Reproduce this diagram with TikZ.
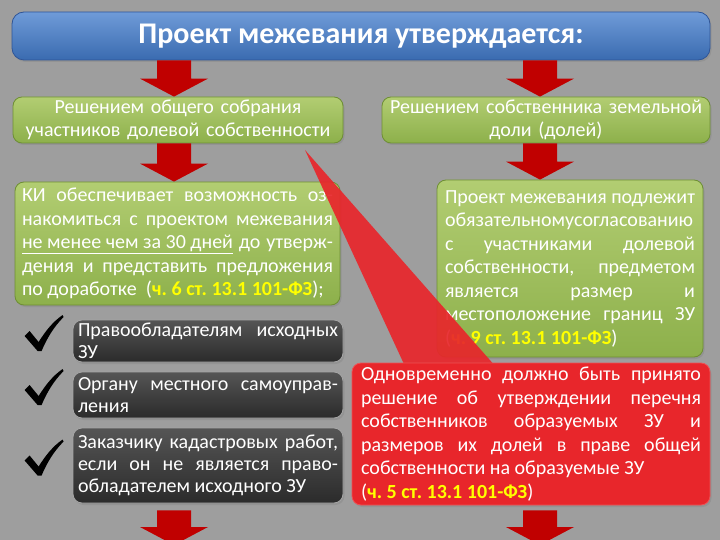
\documentclass[tikz,border=0pt]{standalone}
\usepackage{fontspec}
\setmainfont{Carlito}
\usetikzlibrary{calc,shadows}
\frenchspacing

\definecolor{bggray}{HTML}{9E9E9E}
\definecolor{titletop}{HTML}{6F9BD8}
\definecolor{titlebot}{HTML}{3A6BB0}
\definecolor{titleline}{HTML}{2F5597}
\definecolor{greentop}{HTML}{B2CD72}
\definecolor{greenbot}{HTML}{8DB04B}
\definecolor{greenline}{HTML}{6E8F34}
\definecolor{darktop}{HTML}{555555}
\definecolor{darkbot}{HTML}{2B2B2B}
\definecolor{callred}{HTML}{E8262B}
\definecolor{arrowcol}{HTML}{C00000}
\definecolor{lawyellow}{HTML}{FFFF00}

\newcommand\boxfont{\fontsize{20}{23.5}\selectfont}
\newcommand\darkfont{\fontsize{20}{22}\selectfont}
\newcommand\titlefont{\bfseries\fontsize{30}{34}\selectfont}
\newcommand\lawref[1]{\mbox{\textcolor{lawyellow}{\bfseries #1}}}
% block arrow from #1 down to the tip #2
\newcommand\blockarrow[2]{%
  \fill[arrowred] let \p1=(#1), \p2=(#2) in
    (\x1-17pt,\y1) -- (\x1+17pt,\y1) -- (\x1+17pt,\y2+18pt) -- (\x1+34pt,\y2+18pt)
    -- (\x1,\y2) -- (\x1-34pt,\y2+18pt) -- (\x1-17pt,\y2+18pt) -- cycle;}

\begin{document}
\begin{tikzpicture}[x=1pt,y=-1pt,
  roundbox/.style={rounded corners=9pt,inner sep=5pt,text=white,font=\boxfont,
    drop shadow={opacity=0.35,shadow xshift=1.5pt,shadow yshift=-2pt}},
  titlebox/.style={roundbox,rounded corners=12pt,top color=titletop,bottom color=titlebot,draw=titleline,line width=0.8pt,font=\titlefont},
  greenbox/.style={roundbox,top color=greentop,bottom color=greenbot,draw=greenline,line width=0.8pt},
  darkbox/.style={roundbox,top color=darktop,bottom color=darkbot,draw=gray!70,line width=0.8pt,
    align=justify,font=\darkfont,inner ysep=0pt},
  notebox/.style={roundbox,fill=callred,draw=callred!80!white,line width=0.8pt,align=justify,inner ysep=0pt},
  arrowred/.style={fill=arrowcol},
  checkmark/.pic={\fill[black] (-15,-15) -- (-10,-20) -- (-1,-9)
    .. controls (6,-20) and (13,-29) .. (23,-36) -- (24,-34)
    .. controls (14,-24) and (7,-12) .. (2,0) -- (-2,0) -- cycle;}]
\useasboundingbox (0,0) rectangle (720,540);
\clip (0,0) rectangle (720,540);
\fill[bggray] (0,0) rectangle (720,540);

\coordinate (lcol) at (174,0);
\coordinate (rcol) at (540,0);
\coordinate (lend) at (174,545);
\coordinate (rend) at (540,545);

\node[titlebox,minimum width=698pt,minimum height=48pt] (title) at (361,36) {Проект межевания утверждается:};

\node[greenbox,minimum width=330pt,minimum height=46pt,text width=320pt,align=center,inner ysep=0pt] (meetbox) at (178,120)
  {Решением общего собрания\\участников долевой собственности};
\node[greenbox,minimum width=328pt,minimum height=46pt,text width=318pt,align=center,inner ysep=0pt] (ownerbox) at (546,120)
  {Решением собственника земельной\\доли (долей)};

\node[greenbox,minimum width=325pt,minimum height=123pt,text width=311pt,align=justify,inner ysep=2pt] (noticebox) at (177.5,243.5)
  {\parfillskip=0pt КИ обеспечивает возможность оз-\linebreak
   накомиться с проектом межевания\linebreak
   \underline{не менее чем за 30 дней} до утверж-\linebreak
   дения и представить предложения\linebreak
   по доработке ~(\lawref{ч. 6 ст. 13.1 101-ФЗ});};
\node[greenbox,minimum width=266pt,minimum height=177pt,text width=250pt,align=justify] (agreebox) at (570,268.5)
  {Проект межевания подлежит\linebreak
   обязательномусогласованию\linebreak
   с участниками долевой\linebreak
   собственности, предметом\linebreak
   является размер и\linebreak
   местоположение границ ЗУ\linebreak
   (\lawref{ч. 9 ст. 13.1 101-ФЗ})};

\node[darkbox,minimum width=270pt,minimum height=42pt,text width=260pt] (holderbox) at (208,341)
  {Правообладателям исходных\linebreak ЗУ};
\node[darkbox,minimum width=270pt,minimum height=46pt,text width=260pt] (localbox) at (208,395)
  {Органу местного самоуправ-\linebreak ления};
\node[darkbox,minimum width=270pt,minimum height=75pt,text width=260pt] (clientbox) at (208,465.5)
  {Заказчику кадастровых работ,\linebreak
   если он не является право-\linebreak
   обладателем исходного ЗУ};

\foreach \b in {holderbox,localbox,clientbox}
  \pic at ($(\b.west)+(-33,10)$) {checkmark};

% arrows
\blockarrow{title.south -| lcol}{meetbox.north -| lcol}
\blockarrow{title.south -| rcol}{ownerbox.north -| rcol}
\blockarrow{meetbox.south -| lcol}{noticebox.north -| lcol}
\blockarrow{ownerbox.south -| rcol}{agreebox.north -| rcol}

% callout wedge
\coordinate (apex) at (305,150);
\fill[callred,opacity=0.92] (apex) -- ($(agreebox.south west)+(58,8)$) -- ($(agreebox.south west)+(-32,8)$) -- cycle;

\node[notebox,minimum width=358pt,minimum height=142pt,text width=340pt] (notebox) at (531,434)
  {Одновременно должно быть принято\linebreak
   решение об утверждении перечня\linebreak
   собственников образуемых ЗУ и\linebreak
   размеров их долей в праве общей\linebreak
   собственности на образуемые ЗУ\\
   (\lawref{ч. 5 ст. 13.1 101-ФЗ})};

\blockarrow{$(clientbox.south -| lcol)+(0,7)$}{lend}
\blockarrow{$(notebox.south -| rcol)+(0,5)$}{rend}
\end{tikzpicture}
\end{document}
